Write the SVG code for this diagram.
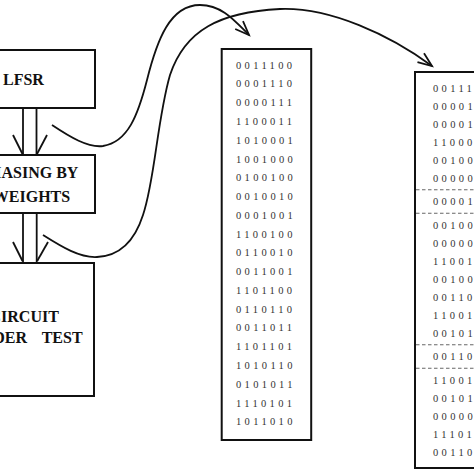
<svg xmlns="http://www.w3.org/2000/svg" width="474" height="474" viewBox="0 0 474 474">
<style>
.box{fill:#fff;stroke:#111;stroke-width:2}
.lbl{font-family:"Liberation Serif","Times New Roman",serif;font-weight:bold;font-size:16px;fill:#111}
.bits{font-family:"Liberation Serif","Times New Roman",serif;font-size:10.5px;letter-spacing:3.35px;fill:#333}
.ln{fill:none;stroke:#111;stroke-width:1.8}
.cv{fill:none;stroke:#111;stroke-width:1.8;marker-end:url(#vh)}
.dash{stroke:#555;stroke-width:0.9;stroke-dasharray:3.5,2.5}
</style>
<defs>
<marker id="vh" markerUnits="userSpaceOnUse" markerWidth="20" markerHeight="20" refX="15" refY="10" orient="auto" viewBox="0 0 20 20">
<path d="M1,4.5 L15,10 L1,15.5" fill="none" stroke="#111" stroke-width="1.8"/>
</marker>
</defs>
<rect width="474" height="474" fill="#fff"/>

<g id="lfsr">
<rect class="box" x="-40" y="50" width="135" height="58"/>
<text class="lbl" x="3" y="85">LFSR</text>
</g>

<g id="biasing">
<rect class="box" x="-40" y="155" width="135" height="58"/>
<text class="lbl" x="31.5" y="178" text-anchor="middle">BIASING BY</text>
<text class="lbl" x="31.5" y="202" text-anchor="middle">WEIGHTS</text>
</g>

<g id="cut">
<rect class="box" x="-40" y="263" width="134" height="133"/>
<text class="lbl" x="-10.5" y="322">CIRCUIT</text>
<text class="lbl" y="343"><tspan x="-29.9">UNDER</tspan><tspan x="41.7">TEST</tspan></text>
</g>

<g id="patterns1">
<rect class="box" x="221.7" y="49" width="89.5" height="391"/>
<g class="bits">
<text x="236" y="68.6">0011100</text>
<text x="236" y="87.4">0001110</text>
<text x="236" y="106.1">0000111</text>
<text x="236" y="124.9">1100011</text>
<text x="236" y="143.7">1010001</text>
<text x="236" y="162.5">1001000</text>
<text x="236" y="181.2">0100100</text>
<text x="236" y="200">0010010</text>
<text x="236" y="218.8">0001001</text>
<text x="236" y="237.5">1100100</text>
<text x="236" y="256.3">0110010</text>
<text x="236" y="275.1">0011001</text>
<text x="236" y="293.8">1101100</text>
<text x="236" y="312.6">0110110</text>
<text x="236" y="331.4">0011011</text>
<text x="236" y="350.2">1101101</text>
<text x="236" y="368.9">1010110</text>
<text x="236" y="387.7">0101011</text>
<text x="236" y="406.5">1110101</text>
<text x="236" y="425.2">1011010</text>
</g>
</g>

<g id="patterns2">
<rect class="box" x="415" y="72" width="90" height="396"/>
<g class="bits">
<text x="433" y="91.6">00111</text>
<text x="433" y="109.6">00001</text>
<text x="433" y="127.6">00001</text>
<text x="433" y="145.6">11000</text>
<text x="433" y="163.6">00100</text>
<text x="433" y="181.6">00000</text>
<text x="433" y="205.1">00001</text>
<text x="433" y="228.6">00100</text>
<text x="433" y="246.6">00000</text>
<text x="433" y="264.6">11001</text>
<text x="433" y="282.6">00100</text>
<text x="433" y="300.6">00110</text>
<text x="433" y="318.6">11001</text>
<text x="433" y="336.6">00101</text>
<text x="433" y="360.1">00110</text>
<text x="433" y="383.6">11001</text>
<text x="433" y="401.6">00101</text>
<text x="433" y="419.6">00000</text>
<text x="433" y="437.6">11101</text>
<text x="433" y="455.6">00110</text>
</g>
<line class="dash" x1="416" y1="189.75" x2="474" y2="189.75"/>
<line class="dash" x1="416" y1="213.25" x2="474" y2="213.25"/>
<line class="dash" x1="416" y1="344.75" x2="474" y2="344.75"/>
<line class="dash" x1="416" y1="368.25" x2="474" y2="368.25"/>
</g>

<g id="connectors">
<line class="ln" x1="23" y1="108" x2="23" y2="155"/>
<line class="ln" x1="36.5" y1="108" x2="36.5" y2="155"/>
<line class="ln" x1="13" y1="135" x2="22.5" y2="154"/>
<line class="ln" x1="47" y1="135" x2="37" y2="154"/>
<line class="ln" x1="23" y1="213" x2="23" y2="263"/>
<line class="ln" x1="36.7" y1="213" x2="36.7" y2="263"/>
<line class="ln" x1="13" y1="242" x2="22.5" y2="261"/>
<line class="ln" x1="48" y1="242" x2="37.2" y2="261"/>
<path class="cv" d="M52,125 C70,137 88,148 103,146 C128,142 138,115 147,80 C157,40 170,5 200,5 C222,5 235,21 249,35"/>
<path class="cv" d="M43,235 C62,247 80,258 97,257 C120,256 135,240 143,215 C155,180 157,120 170,75 C185,30 220,12 280,9 C330,7 390,35 432,66"/>
</g>
</svg>
